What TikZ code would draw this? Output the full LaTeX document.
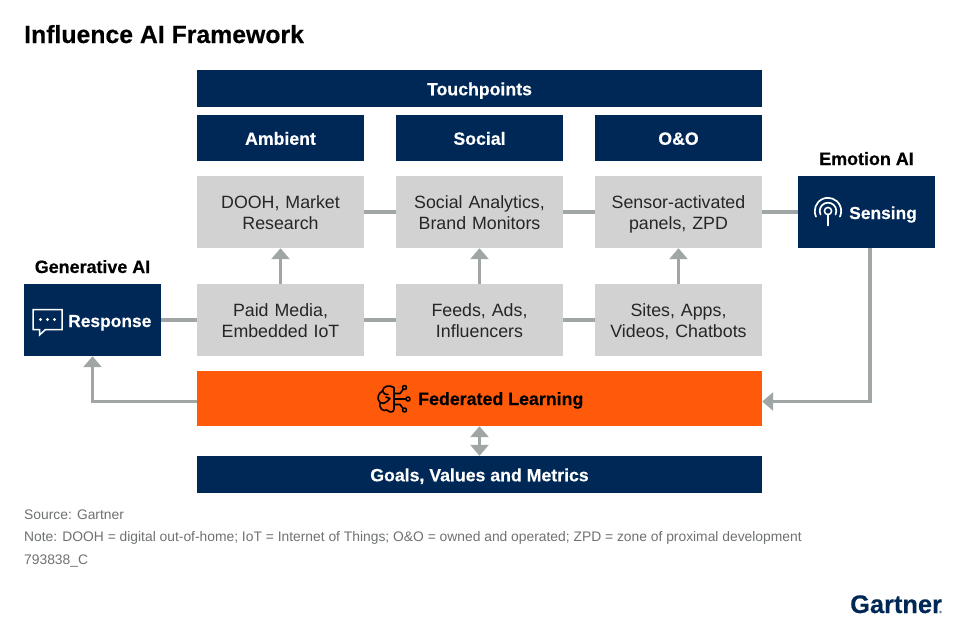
\documentclass[tikz,border=0pt]{standalone}
\usepackage{fontspec}
\setmainfont{Liberation Sans}[BoldFeatures={FakeBold=0.35}]
\usetikzlibrary{arrows.meta,calc}
\definecolor{navy}{HTML}{002856}
\definecolor{boxgray}{HTML}{D2D2D2}
\definecolor{linegray}{HTML}{A0A6A5}
\definecolor{flame}{HTML}{FF5A0A}
\definecolor{notegray}{HTML}{6F7272}
\newcommand{\fs}[1]{\fontsize{#1}{21.5}\selectfont}
\tikzset{
  x=1pt,y=-1pt,
  bx/.style={inner sep=0pt,minimum width=#1,align=center},
  navybox/.style={bx=#1,fill=navy,text=white,font=\fs{17.7}\bfseries,text height=13.5pt,text depth=0pt},
  graybox/.style={bx=167pt,minimum height=72pt,fill=boxgray,text=black!85,font=\fs{17.8},text width=160pt,
    execute at begin node={\rule{0pt}{17.5pt}},execute at end node={\rule[-4pt]{0pt}{4pt}}},
  link/.style={draw=linegray,line width=3.6pt},
  flow/.style={link,-{Triangle[length=11pt,width=18pt]}},
  both/.style={link,{Triangle[length=11pt,width=18pt]}-{Triangle[length=11pt,width=18pt]}},
  head/.style={inner sep=0pt,anchor=base,font=\fs{17.9}\bfseries,text=black},
  inlabel/.style={inner sep=0pt,anchor=base west,text=white,font=\fs{17.4}\bfseries},
  foot/.style={inner sep=0pt,anchor=base west,font=\fs{13.84},text=notegray},
}
\begin{document}
\begin{tikzpicture}
\useasboundingbox (0,0) rectangle (960,624);
\fill[white] (0,0) rectangle (960,624);
\node[inner sep=0pt,anchor=base west,font=\fs{24.8}\bfseries] (title) at (24,43) {Influence AI Framework};

\node[navybox=565pt,minimum height=37pt] (touch) at (479.5,88.5) {Touchpoints};
\node[navybox=167pt,minimum height=46pt] (amb) at (280.5,138) {Ambient};
\node[navybox=167pt,minimum height=46pt] (soc) at (479.5,138) {Social};
\node[navybox=167pt,minimum height=46pt] (oo) at (678.5,138) {O\&O};

\node[graybox] (dooh) at (280.5,212) {DOOH, Market\\Research};
\node[graybox] (sa) at (479.5,212) {Social Analytics,\\Brand Monitors};
\node[graybox] (sp) at (678.5,212) {Sensor-activated\\panels, ZPD};
\node[graybox] (paid) at (280.5,320) {Paid Media,\\Embedded IoT};
\node[graybox] (feeds) at (479.5,320) {Feeds, Ads,\\Influencers};
\node[graybox] (sites) at (678.5,320) {Sites, Apps,\\Videos, Chatbots};

\node[navybox=137pt,minimum height=72pt] (sens) at (866.5,212) {};
\node[navybox=137pt,minimum height=72pt] (resp) at (92.5,320) {};
\node[inlabel] (senst) at (849,219) {Sensing};
\node[inlabel] (respt) at (68,327) {Response};
\node[head] (emo) at (866.5,165) {Emotion AI};
\node[head] (gen) at (92.5,273) {Generative AI};

\node[bx=565pt,minimum height=55pt,fill=flame] (fed) at (479.5,398.5) {};
\node[inlabel,text=black,font=\fs{17.8}\bfseries] (fedt) at (418,405) {Federated Learning};
\node[navybox=565pt,minimum height=37pt] (goals) at (479.5,474.5) {Goals, Values and Metrics};

% connectors
\draw[link] (resp.east) -- (paid.west);
\draw[link] (paid.east) -- (feeds.west);
\draw[link] (feeds.east) -- (sites.west);
\draw[link] (dooh.east) -- (sa.west);
\draw[link] (sa.east) -- (sp.west);
\draw[link] (sp.east) -- (sens.west);
\draw[flow] (paid.north) -- (dooh.south);
\draw[flow] (feeds.north) -- (sa.south);
\draw[flow] (sites.north) -- (sp.south);
\draw[flow] ([yshift=-3pt]fed.west) -| (resp.south);
\draw[flow] ([xshift=3.5pt]sens.south) |- ([yshift=-3pt]fed.east);
\draw[both] (fed.south) -- (goals.north);

% chat icon
\draw[white,line width=1.5pt,line join=miter] (33,309.5) -- (62,309.5) -- (62,329.5) -- (45.5,329.5) -- (39.5,335) -- (39.5,329.5) -- (33,329.5) -- cycle;
\foreach \dx in {40.5,47.5,54.5} \fill[white] (\dx,319.5) circle (1.7);

% signal icon
\draw[white,line width=1.5pt] (828,211) circle (3.6);
\draw[white,line width=1.7pt,line cap=round] (828,214.6) -- (828,225.5);
\draw[white,line width=1.7pt,line cap=round] (820.5,214.5) arc[start angle=155,end angle=385,radius=8.3];
\draw[white,line width=1.7pt,line cap=round] (816,216.6) arc[start angle=155,end angle=385,radius=13.2];

% brain icon
\begin{scope}[black,line width=1.6pt,line cap=round,line join=round]
\draw (394,387.5) .. controls (389,384.5) and (383,386) .. (382.5,391)
      .. controls (378,393) and (376.5,399) .. (380,402.5)
      .. controls (378.5,408) and (383,412) .. (387,410)
      .. controls (389.5,413) and (394,412.5) .. (394,409) -- cycle;
\draw (382.5,391) .. controls (384,394) and (386,395) .. (388,394.5);
\draw (380,402.5) .. controls (382.5,404) and (385,403.5) .. (387,401.5) -- (390,398.5) -- (386,397);
\draw (394,393.5) -- (400,393.5) -- (403,389.5);
\draw (394,399) -- (406,399);
\draw (394,404.5) -- (400,404.5) -- (403,408.5);
\draw (404.5,387.5) circle (2);
\draw (408,399) circle (2);
\draw (404.5,410) circle (2);
\end{scope}

% footer
\node[foot] (src) at (24,519.5) {Source: Gartner};
\node[foot] (note) at (24,541) {Note: DOOH = digital out-of-home; IoT = Internet of Things; O\&O = owned and operated; ZPD = zone of proximal development};
\node[foot] (id) at (24,564) {793838\_C};

% logo
\node[inner sep=0pt,anchor=base west,text=navy,font=\fs{25.4}\bfseries] (logo) at (850,613) {Gartner};
\fill[navy!60] (940.5,612) circle (1.4);
\end{tikzpicture}
\end{document}
